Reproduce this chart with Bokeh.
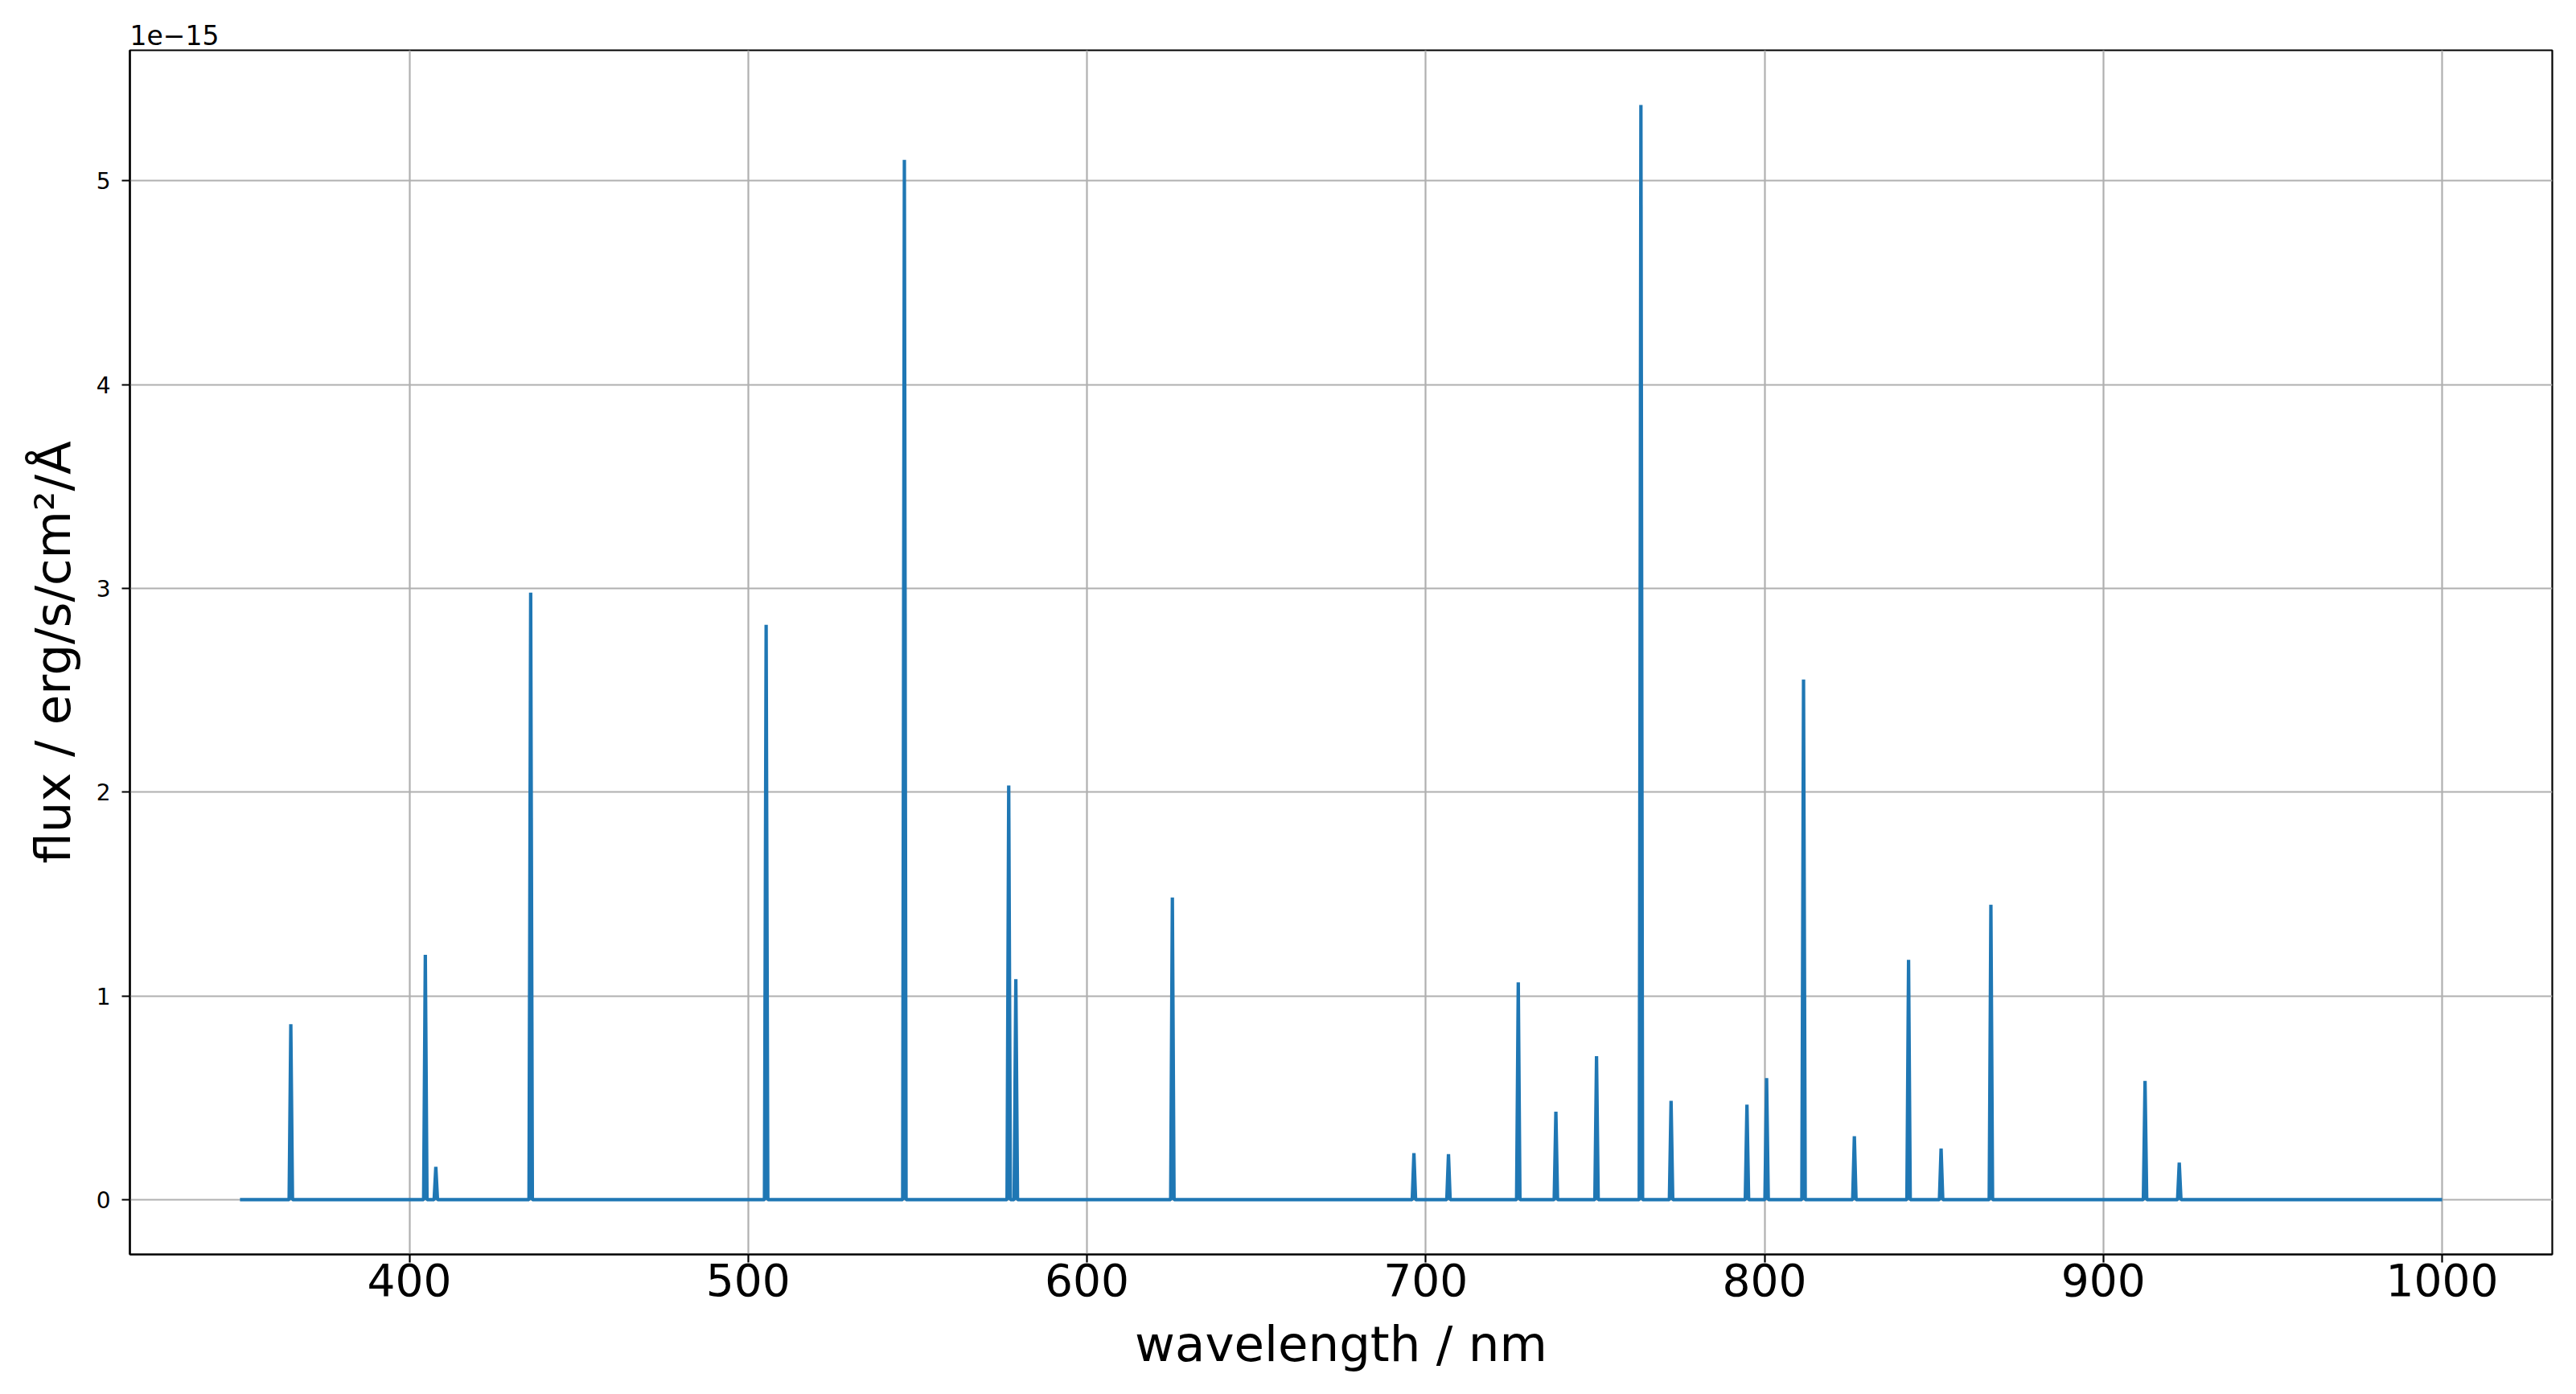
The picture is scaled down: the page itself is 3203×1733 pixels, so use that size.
import numpy as np
from bokeh.plotting import figure
from bokeh.models import Range1d, FixedTicker
from bokeh.embed import file_html
from bokeh.resources import INLINE

# ---- data (flux in units of 1e-15 erg/s/cm^2/Angstrom) ----
spectrum_start_nm = 350.0
spectrum_end_nm = 1000.0
line_centers_nm = [365.0, 404.7, 407.8, 435.8, 505.3, 546.1, 576.9, 579.0,
                   625.2, 696.5, 706.7, 727.3, 738.4, 750.4, 763.5, 772.4,
                   794.8, 800.6, 811.5, 826.5, 842.5, 852.1, 866.8, 912.3,
                   922.4]
line_peaks_1e15 = [0.861, 1.202, 0.161, 2.979, 2.821, 5.103, 2.033, 1.082,
                   1.483, 0.228, 0.224, 1.067, 0.432, 0.704, 5.372, 0.485,
                   0.466, 0.597, 2.553, 0.311, 1.177, 0.251, 1.447, 0.583,
                   0.182]
line_halfwidth_nm = 0.5
x_ticks = [400, 500, 600, 700, 800, 900, 1000]
y_ticks = [0, 1, 2, 3, 4, 5]
offset_text = "1e\u221215"

# build the spectrum polyline from the line list
wl = [spectrum_start_nm]
flux = [0.0]
for c, h in zip(line_centers_nm, line_peaks_1e15):
    wl += [c - line_halfwidth_nm, c, c + line_halfwidth_nm]
    flux += [0.0, h, 0.0]
wl.append(spectrum_end_nm)
flux.append(0.0)

xmin, xmax = min(wl), max(wl)
ymin, ymax = min(flux), max(flux)
xm = 0.05 * (xmax - xmin)
ym = 0.05 * (ymax - ymin)

FONT = "DejaVu Sans"

p = figure(frame_width=3012, frame_height=1497,
           min_border_left=161, min_border_right=22,
           min_border_top=62, min_border_bottom=160,
           x_range=Range1d(xmin - xm, xmax + xm),
           y_range=Range1d(ymin - ym, ymax + ym),
           output_backend="svg", toolbar_location=None,
           background_fill_color="white", border_fill_color="white",
           title=offset_text)

p.title.text_font = FONT
p.title.text_font_size = "33px"
p.title.text_font_style = "normal"
p.title.text_color = "black"
p.title.align = "left"
p.title.standoff = 14
p.title.offset = 0

p.line(wl, flux, line_color="#1f77b4", line_width=4.2)

p.outline_line_color = "black"
p.outline_line_width = 2.2

for ax in (p.xaxis[0], p.yaxis[0]):
    ax.axis_line_color = "black"
    ax.axis_line_width = 2.2
    ax.major_tick_line_color = "black"
    ax.major_tick_line_width = 2.2
    ax.major_tick_out = 10
    ax.major_tick_in = 0
    ax.minor_tick_line_color = None
    ax.major_label_text_font = FONT
    ax.major_label_text_color = "black"
    ax.axis_label_text_font = FONT
    ax.axis_label_text_font_style = "normal"
    ax.axis_label_text_color = "black"
    ax.axis_label_text_font_size = "61px"

p.xaxis.ticker = FixedTicker(ticks=x_ticks)
p.yaxis.ticker = FixedTicker(ticks=y_ticks)
p.xaxis.major_label_text_font_size = "55px"
p.yaxis.major_label_text_font_size = "28px"
p.xaxis.major_label_standoff = 1
p.yaxis.major_label_standoff = 14
p.xaxis.axis_label = "wavelength / nm"
p.yaxis.axis_label = "flux / erg/s/cm\u00b2/\u00c5"
p.xaxis.axis_label_standoff = 21
p.yaxis.axis_label_standoff = 16

for g in (p.xgrid[0], p.ygrid[0]):
    g.grid_line_color = "#b0b0b0"
    g.grid_line_width = 2.2
p.xgrid.ticker = FixedTicker(ticks=x_ticks)
p.ygrid.ticker = FixedTicker(ticks=y_ticks)

open("out.html", "w").write(file_html(p, INLINE))
